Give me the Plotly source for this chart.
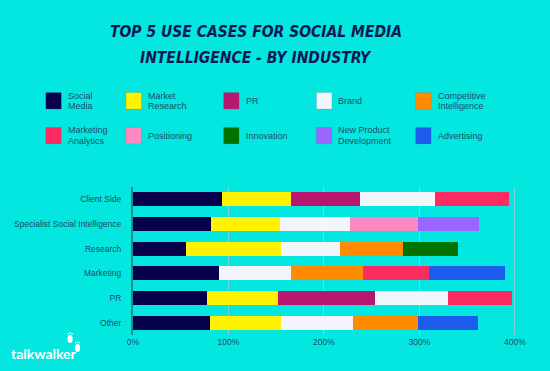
import plotly.graph_objects as go

# ---------------- data ----------------
categories = ["Client Side", "Specialist Social Intelligence", "Research",
              "Marketing", "PR", "Other"]

series_names = ["Social Media", "Market Research", "PR", "Brand",
                "Competitive Intelligence", "Marketing Analytics",
                "Positioning", "Innovation", "New Product Development",
                "Advertising"]

legend_labels = ["Social\nMedia", "Market\nResearch", "PR", "Brand",
                 "Competitive\nIntelligence", "Marketing\nAnalytics",
                 "Positioning", "Innovation", "New Product\nDevelopment",
                 "Advertising"]

# values in % per category (None = not in top 5)
social_media        = [93, 82, 56, 90, 78, 81]
market_research     = [73, 72, 99, None, 74, 74]
pr_values           = [72, None, None, None, 101, None]
brand               = [78, 73, 62, 76, 77, 75]
competitive_intel   = [None, None, 66, 75, None, 69]
marketing_analytics = [78, None, None, 69, 67, None]
positioning         = [None, 71, None, None, None, None]
innovation          = [None, None, 57, None, None, None]
new_product_dev     = [None, 64, None, None, None, None]
advertising         = [None, None, None, 80, None, 62]

x_ticks = [0, 100, 200, 300, 400]

# ---------------- styles ----------------
colors = ["#07004a", "#fff200", "#b8176f", "#f3f5fc", "#ff8c00",
          "#fc2c60", "#fd89c2", "#007300", "#9966ff", "#1b5cec"]
BG = "#03e7e0"
TXT = "#1f4d68"

values = [social_media, market_research, pr_values, brand, competitive_intel,
          marketing_analytics, positioning, innovation, new_product_dev,
          advertising]

W, H = 550, 371
L, R, T, B = 133, 15.5, 187, 36
PW, PH = W - L - R, H - T - B


def px(x):
    return (x - L) / PW


def py(y):
    return (H - B - y) / PH


fig = go.Figure()
for name, vals, col in zip(series_names, values, colors):
    fig.add_trace(go.Bar(
        y=categories, x=vals, name=name, orientation="h",
        marker=dict(color=col, line=dict(width=0)),
        showlegend=False,
        hovertemplate="%{y}<br>" + name + ": %{x}%<extra></extra>",
    ))

# ---------------- custom legend ----------------
col_x = [45.7, 126, 223.7, 316.7, 416]
row_y = [100.8, 135.7]
sw = 15.5
shapes = []
annotations = []
for i, (lab, col) in enumerate(zip(legend_labels, colors)):
    c, r = i % 5, i // 5
    x0 = col_x[c]
    yc = row_y[r]
    shapes.append(dict(type="rect", xref="paper", yref="paper",
                       x0=px(x0), x1=px(x0 + sw),
                       y0=py(yc + sw / 2 + 0.5), y1=py(yc - sw / 2 - 0.5),
                       fillcolor=col, line=dict(width=0.6, color="rgba(90,110,130,0.35)")))
    lines = lab.split("\n")
    n = len(lines)
    for k, ln in enumerate(lines):
        yy = yc + (k - (n - 1) / 2) * 10.5
        annotations.append(dict(
            text=ln, xref="paper", yref="paper", x=px(x0 + sw + 4.5), y=py(yy),
            xanchor="left", yanchor="middle", showarrow=False,
            font=dict(size=9, color=TXT, family="Liberation Sans, Arial, sans-serif")))

# ---------------- title ----------------
for txt, yy in [("TOP 5 USE CASES FOR SOCIAL MEDIA", 32),
                ("INTELLIGENCE - BY INDUSTRY", 58)]:
    annotations.append(dict(
        text="<b><i>" + txt + "</i></b>", xref="paper", yref="paper",
        x=px(256.5), y=py(yy), xanchor="center", yanchor="middle",
        showarrow=False,
        font=dict(size=15.5, color="#0e1850",
                  family="DejaVu Sans Condensed, sans-serif")))

# ---------------- talkwalker logo ----------------
annotations.append(dict(
    text="<b>talkwalker</b>", xref="paper", yref="paper",
    x=px(9), y=py(353), xanchor="left", yanchor="middle", showarrow=False,
    font=dict(size=14, color="white", family="Lato, Open Sans, sans-serif")))
# footprints
for (cx, cy, rx, ry) in [(70, 339, 2.6, 4.0), (77.5, 348, 2.6, 4.0)]:
    shapes.append(dict(type="circle", xref="paper", yref="paper",
                       x0=px(cx - rx), x1=px(cx + rx),
                       y0=py(cy + ry), y1=py(cy - ry),
                       fillcolor="white", line=dict(width=0)))
    for dx, dy in [(-1.8, -5.3), (0.2, -5.9), (2.0, -5.2)]:
        shapes.append(dict(type="circle", xref="paper", yref="paper",
                           x0=px(cx + dx - 0.8), x1=px(cx + dx + 0.8),
                           y0=py(cy + dy + 0.8), y1=py(cy + dy - 0.8),
                           fillcolor="white", line=dict(width=0)))

fig.update_layout(
    barmode="stack",
    bargap=0.43,
    width=W, height=H,
    margin=dict(l=L, r=R, t=T, b=B, pad=0, autoexpand=False),
    paper_bgcolor=BG, plot_bgcolor=BG,
    font=dict(family="Liberation Sans, Arial, sans-serif", size=9, color=TXT),
    shapes=shapes,
    annotations=annotations,
    xaxis=dict(range=[0, 420], tickvals=x_ticks,
               ticktext=[f"{v}%" for v in x_ticks], automargin=False,
               showgrid=True, gridcolor="rgba(170,205,205,0.75)", gridwidth=1,
               zeroline=False, showline=False, ticks="",
               tickfont=dict(size=8.5, color=TXT), fixedrange=True),
    yaxis=dict(categoryorder="array", categoryarray=categories,
               autorange="reversed", showgrid=False, automargin=False,
               showline=True, linecolor="#178f8c", linewidth=2,
               ticks="outside", ticklen=8, tickcolor="rgba(0,0,0,0)",
               tickfont=dict(size=8.5, color=TXT), fixedrange=True),
)

fig.write_html("out.html",
               config={"displayModeBar": False},
               post_script="document.body.style.margin='0';"
                           "document.body.style.background='" + BG + "';")
